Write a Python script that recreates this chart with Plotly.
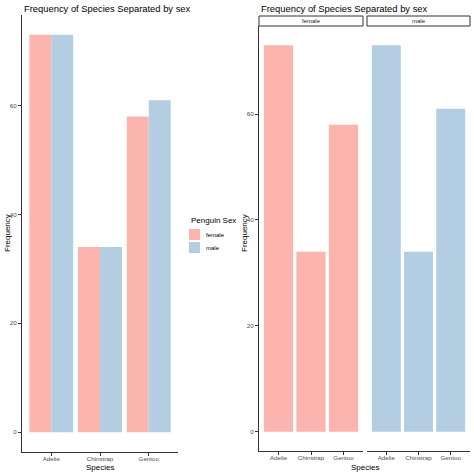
import plotly.graph_objects as go

species = ["Adelie", "Chinstrap", "Gentoo"]
female_counts = [73, 34, 58]
male_counts = [73, 34, 61]
sex_labels = ["female", "male"]
colors = {"female": "#FBB4AE", "male": "#B3CDE3"}
title_text = "Frequency of Species Separated by sex"
legend_title = "Penguin Sex"

W = H = 474
def px(v):
    return v / W
def py(v):
    return 1 - v / H

FONT = "Liberation Sans, Arial, sans-serif"
fig = go.Figure()

# Left: grouped
fig.add_trace(go.Bar(x=species, y=female_counts, name="female", marker=dict(color=colors["female"], line=dict(width=0)),
                     xaxis="x", yaxis="y", showlegend=False))
fig.add_trace(go.Bar(x=species, y=male_counts, name="male", marker=dict(color=colors["male"], line=dict(width=0)),
                     xaxis="x", yaxis="y", showlegend=False))
# Right: faceted
fig.add_trace(go.Bar(x=species, y=female_counts, name="female", marker=dict(color=colors["female"], line=dict(width=0)),
                     xaxis="x2", yaxis="y2", showlegend=False))
fig.add_trace(go.Bar(x=species, y=male_counts, name="male", marker=dict(color=colors["male"], line=dict(width=0)),
                     xaxis="x3", yaxis="y3", showlegend=False))

ymax = max(max(female_counts), max(male_counts))
yr = [-0.05 * ymax, ymax * 1.05]
xr = [-0.6, len(species) - 0.4]

axcommon = dict(showgrid=False, zeroline=False, showline=True, linecolor="#333333", linewidth=1,
                ticks="outside", ticklen=3, tickcolor="#333333", tickwidth=1,
                tickfont=dict(family=FONT, size=6.2, color="#4D4D4D"))

fig.update_layout(
    width=W, height=H, margin=dict(l=0, r=0, t=0, b=0),
    paper_bgcolor="white", plot_bgcolor="white",
    barmode="group", bargap=0.1, bargroupgap=0,
    font=dict(family=FONT, color="black"),
    showlegend=False,
    xaxis=dict(domain=[px(22), px(178)], anchor="y", range=xr, ticklabelstandoff=-2, **axcommon),
    yaxis=dict(domain=[py(452), py(15)], anchor="x", range=yr, tickvals=[0, 20, 40, 60], **axcommon),
    xaxis2=dict(domain=[px(259), px(363)], anchor="y2", range=xr, ticklabelstandoff=-2, **axcommon),
    yaxis2=dict(domain=[py(451), py(26)], anchor="x2", range=yr, tickvals=[0, 20, 40, 60], **axcommon),
    xaxis3=dict(domain=[px(367), px(470)], anchor="y3", range=xr, ticklabelstandoff=-2, **axcommon),
    yaxis3=dict(domain=[py(451), py(26)], anchor="x3", range=yr, tickvals=[0, 20, 40, 60],
                showgrid=False, zeroline=False, showline=False, showticklabels=False, ticks=""),
)

def ann(text, x, y, size, xanchor="center", angle=0, color="black"):
    fig.add_annotation(text=text, x=px(x), y=py(y), xref="paper", yref="paper",
                       xanchor=xanchor, yanchor="middle", showarrow=False, textangle=angle,
                       font=dict(size=size, family=FONT, color=color))

# titles
for xx in (22, 259):
    ann(title_text, xx, 8, 9.4, xanchor="left")

# strips
for (x0, x1), lab in zip([(259, 363), (367, 470)], sex_labels):
    fig.add_shape(type="rect", x0=px(x0), x1=px(x1), y0=py(26), y1=py(16), xref="paper", yref="paper",
                  line=dict(color="#333333", width=1), fillcolor="white")
    ann(lab, (x0 + x1) / 2, 21, 6, color="#1A1A1A")

# axis titles
ann("Species", 100, 467, 8)
ann("Species", 364.5, 467, 8)
ann("Frequency", 7, 233, 8, angle=-90)
ann("Frequency", 244, 233, 8, angle=-90)

# legend (manual keys)
ann(legend_title, 189, 221, 8, xanchor="left")
for i, lab in enumerate(sex_labels):
    y0 = 229 + 13 * i
    fig.add_shape(type="rect", x0=px(189), x1=px(200), y0=py(y0 + 11), y1=py(y0), xref="paper", yref="paper",
                  line=dict(width=0), fillcolor=colors[lab])
    ann(lab, 204, y0 + 5.5, 6, xanchor="left")

fig.write_html("out.html")
